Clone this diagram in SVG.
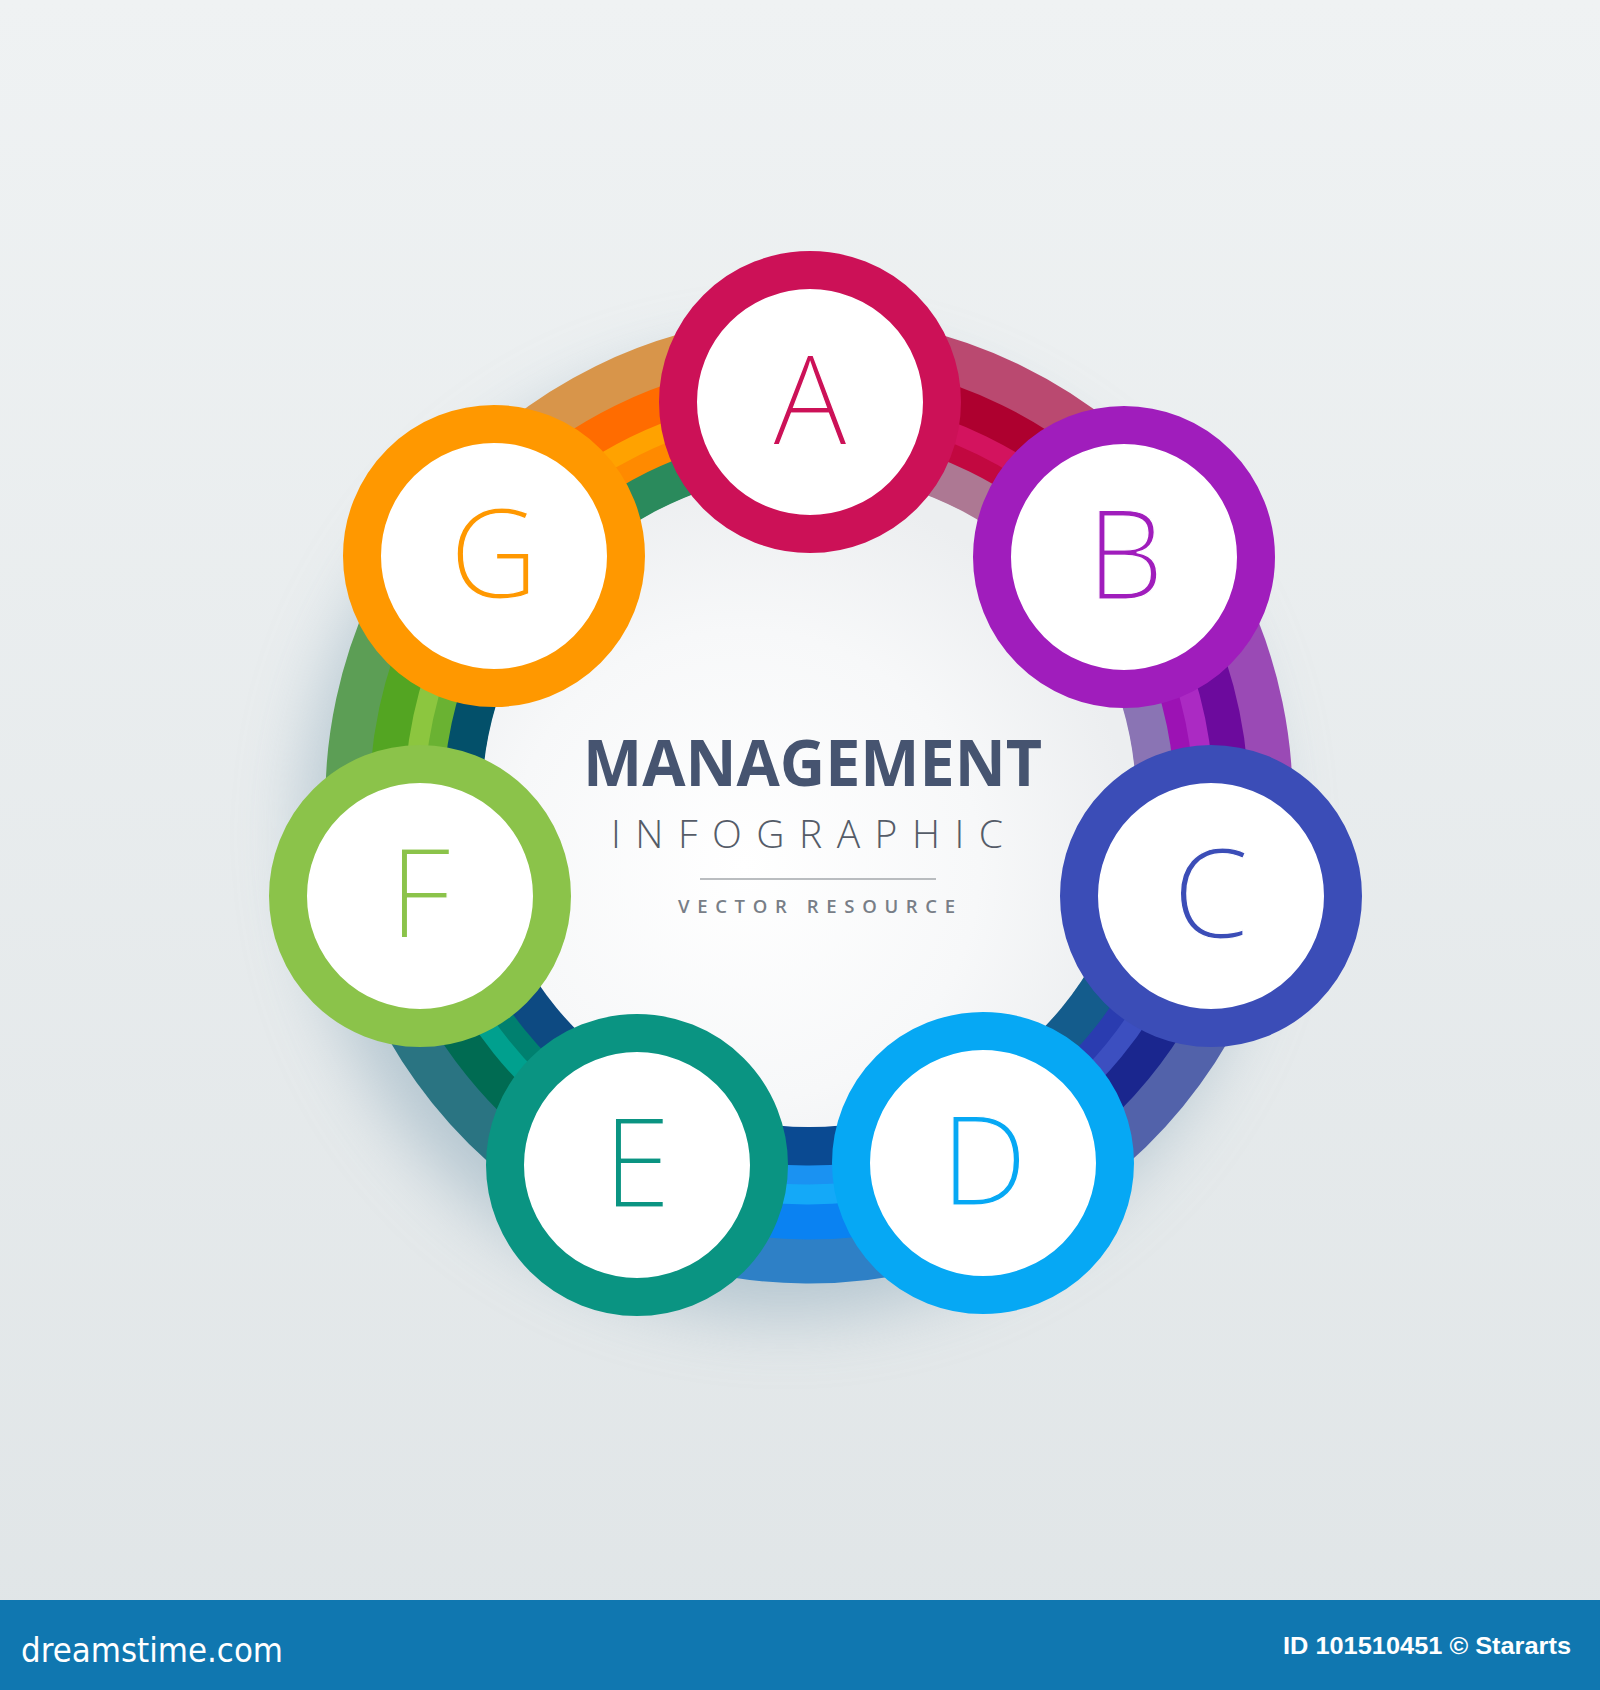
<svg xmlns="http://www.w3.org/2000/svg" width="1600" height="1690" viewBox="0 0 1600 1690">
<defs>
  <linearGradient id="bg" x1="0" y1="0" x2="0" y2="1">
    <stop offset="0" stop-color="#eff2f3"/>
    <stop offset="1" stop-color="#e0e5e7"/>
  </linearGradient>
  <radialGradient id="disc" cx="0.4" cy="0.6" r="0.6">
    <stop offset="0" stop-color="#ffffff"/>
    <stop offset="0.6" stop-color="#f7f8f9"/>
    <stop offset="1" stop-color="#eceef0"/>
  </radialGradient>
  <filter id="blur" x="-30%" y="-30%" width="160%" height="160%">
    <feGaussianBlur stdDeviation="34"/>
  </filter>
  <style>
    .seg circle { fill: none; }
    .r0 { stroke-width: 40; stroke-dasharray: 320.5 3000; }
    .r1 { stroke-width: 20; stroke-dasharray: 347.3 3000; }
    .r2 { stroke-width: 21; stroke-dasharray: 365.4 3000; }
    .r3 { stroke-width: 36; stroke-dasharray: 390.8 3000; }
    .r4 { stroke-width: 44; stroke-dasharray: 426.9 3000; }
    .ring { fill: #ffffff; stroke-width: 38; }
    .lt { font-family: "Open Sans", "Liberation Sans", sans-serif; font-weight: 300; font-size: 123px; text-anchor: middle; stroke: #ffffff; stroke-width: 1.2px; paint-order: fill; }
    .ctr { font-family: "Open Sans", "Liberation Sans", sans-serif; text-anchor: middle; }
  </style>
</defs>
<rect width="1600" height="1690" fill="url(#bg)"/>
<circle cx="785" cy="835" r="480" fill="#8eaabb" opacity="0.55" filter="url(#blur)"/>

<g id="connectors">
  <g class="seg" id="seg-AB" transform="rotate(-90.5 809 800)">
    <circle cx="809" cy="800" r="346.5" class="r0" stroke="#ad7893"/>
    <circle cx="809" cy="800" r="375.5" class="r1" stroke="#c20840"/>
    <circle cx="809" cy="800" r="395" class="r2" stroke="#d3135e"/>
    <circle cx="809" cy="800" r="422.5" class="r3" stroke="#ae002f"/>
    <circle cx="809" cy="800" r="461.5" class="r4" stroke="#ba4970"/>
  </g>
  <g class="seg" id="seg-BC" transform="rotate(-38.2 809 800)">
    <circle cx="809" cy="800" r="346.5" class="r0" stroke="#8a74b4"/>
    <circle cx="809" cy="800" r="375.5" class="r1" stroke="#9c12b4"/>
    <circle cx="809" cy="800" r="395" class="r2" stroke="#ab2ac3"/>
    <circle cx="809" cy="800" r="422.5" class="r3" stroke="#6c0a9d"/>
    <circle cx="809" cy="800" r="461.5" class="r4" stroke="#9a4ab5"/>
  </g>
  <g class="seg" id="seg-CD" transform="rotate(12.9 809 800)">
    <circle cx="809" cy="800" r="346.5" class="r0" stroke="#145c8c"/>
    <circle cx="809" cy="800" r="375.5" class="r1" stroke="#2a3cb0"/>
    <circle cx="809" cy="800" r="395" class="r2" stroke="#3c4fc0"/>
    <circle cx="809" cy="800" r="422.5" class="r3" stroke="#1a268e"/>
    <circle cx="809" cy="800" r="461.5" class="r4" stroke="#5262aa"/>
  </g>
  <g class="seg" id="seg-DE" transform="rotate(63.9 809 800)">
    <circle cx="809" cy="800" r="346.5" class="r0" stroke="#0a4a92"/>
    <circle cx="809" cy="800" r="375.5" class="r1" stroke="#1a92f2"/>
    <circle cx="809" cy="800" r="395" class="r2" stroke="#14a9f8"/>
    <circle cx="809" cy="800" r="422.5" class="r3" stroke="#0a82f2"/>
    <circle cx="809" cy="800" r="461.5" class="r4" stroke="#2e80c6"/>
  </g>
  <g class="seg" id="seg-EF" transform="rotate(114.7 809 800)">
    <circle cx="809" cy="800" r="346.5" class="r0" stroke="#0d4a82"/>
    <circle cx="809" cy="800" r="375.5" class="r1" stroke="#00806f"/>
    <circle cx="809" cy="800" r="395" class="r2" stroke="#00a08e"/>
    <circle cx="809" cy="800" r="422.5" class="r3" stroke="#006b52"/>
    <circle cx="809" cy="800" r="461.5" class="r4" stroke="#2a7482"/>
  </g>
  <g class="seg" id="seg-FG" transform="rotate(165.6 809 800)">
    <circle cx="809" cy="800" r="346.5" class="r0" stroke="#03506a"/>
    <circle cx="809" cy="800" r="375.5" class="r1" stroke="#6ab232"/>
    <circle cx="809" cy="800" r="395" class="r2" stroke="#8cc63f"/>
    <circle cx="809" cy="800" r="422.5" class="r3" stroke="#53a522"/>
    <circle cx="809" cy="800" r="461.5" class="r4" stroke="#5c9e55"/>
  </g>
  <g class="seg" id="seg-GA" transform="rotate(217.3 809 800)">
    <circle cx="809" cy="800" r="346.5" class="r0" stroke="#2a8a5c"/>
    <circle cx="809" cy="800" r="375.5" class="r1" stroke="#ff8a00"/>
    <circle cx="809" cy="800" r="395" class="r2" stroke="#ffa200"/>
    <circle cx="809" cy="800" r="422.5" class="r3" stroke="#ff6c00"/>
    <circle cx="809" cy="800" r="461.5" class="r4" stroke="#d8954a"/>
  </g>
</g>

<g id="center">
  <circle cx="809" cy="800" r="327" fill="url(#disc)"/>
  <text class="ctr" x="812.5" y="786" font-size="64" font-weight="700" fill="#465470" textLength="459" lengthAdjust="spacingAndGlyphs">MANAGEMENT</text>
  <text class="ctr" x="807" y="848" font-size="39" font-weight="300" fill="#555c68" textLength="392" lengthAdjust="spacing">INFOGRAPHIC</text>
  <line x1="700" y1="879" x2="936" y2="879" stroke="#a3a7ab" stroke-width="1.6"/>
  <text class="ctr" x="816.5" y="913" font-size="18.5" font-weight="600" fill="#787e87" textLength="277" lengthAdjust="spacing">VECTOR RESOURCE</text>
</g>

<g id="node-A">
  <circle cx="810" cy="402" r="132" class="ring" stroke="#cc1157"/>
  <text class="lt" x="810" y="444" fill="#cc1157">A</text>
</g>
<g id="node-B">
  <circle cx="1124" cy="557" r="132" class="ring" stroke="#a01dbc"/>
  <text class="lt" x="1125" y="599" fill="#a01dbc">B</text>
</g>
<g id="node-C">
  <circle cx="1211" cy="896" r="132" class="ring" stroke="#3b4db7"/>
  <text class="lt" x="1211" y="938" fill="#3b4db7">C</text>
</g>
<g id="node-D">
  <circle cx="983" cy="1163" r="132" class="ring" stroke="#06a8f4"/>
  <text class="lt" x="984" y="1205" fill="#06a8f4">D</text>
</g>
<g id="node-E">
  <circle cx="637" cy="1165" r="132" class="ring" stroke="#0a9482"/>
  <text class="lt" x="637" y="1207" fill="#0a9482">E</text>
</g>
<g id="node-F">
  <circle cx="420" cy="896" r="132" class="ring" stroke="#8bc34a"/>
  <text class="lt" x="420" y="938" fill="#8bc34a">F</text>
</g>
<g id="node-G">
  <circle cx="494" cy="556" r="132" class="ring" stroke="#ff9800"/>
  <text class="lt" x="494" y="598" fill="#ff9800">G</text>
</g>

<g id="footer">
  <rect x="0" y="1600" width="1600" height="90" fill="#1077b0"/>
  <text x="21" y="1662" font-family="DejaVu Sans, sans-serif" font-size="34" fill="#ffffff" textLength="262" lengthAdjust="spacingAndGlyphs">dreamstime.com</text>
  <text x="1283" y="1654" font-family="Liberation Sans, sans-serif" font-size="24" font-weight="700" fill="#ffffff" textLength="288" lengthAdjust="spacingAndGlyphs">ID 101510451 © Stararts</text>
</g>
</svg>
